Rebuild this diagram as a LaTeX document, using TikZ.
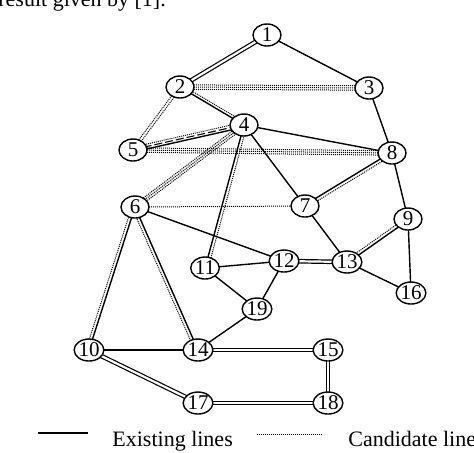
\documentclass[tikz,border=0pt]{standalone}
\usepackage{fontspec}
\setmainfont{Liberation Serif}
\usetikzlibrary{shapes.geometric,calc,backgrounds}

% one line between two buses, shifted sideways by #4
\newcommand\branch[4]{%
    \draw[#1] ($(#2)!#4!90:(#3)$) -- ($(#3)!#4!-90:(#2)$);%
}

\begin{document}
\begin{tikzpicture}[
    x=0.5pt, y=-0.5pt,
    font=\fontsize{10.5}{12}\selectfont,
    bus/.style={
        ellipse,
        draw,
        line width=0.7pt,
        fill=white,
        inner sep=0pt,
        minimum width=14pt,
        minimum height=11pt
    },
    existing/.style={
        line width=0.7pt
    },
    candidate/.style={
        line width=0.5pt,
        dash pattern=on 0.5pt off 0.5pt
    },
    twin/.style={
        line width=0.6pt,
        double,
        double distance=1.1pt
    },
    dashline/.style={
        line width=0.55pt,
        dash pattern=on 4pt off 1.5pt
    },
    legend/.style={
        font=\fontsize{11}{13}\selectfont,
        anchor=base west,
        inner sep=0pt
    }
]
\useasboundingbox (0,0) rectangle (474,452);

% Text cut by the page above
\node[legend] (caption) at (-2,6) {result given by [1].};

% Buses
\node[bus] (b1)  at (267,35)  {1};
\node[bus] (b2)  at (180,87)  {2};
\node[bus] (b3)  at (369,88)  {3};
\node[bus] (b4)  at (244,125) {4};
\node[bus] (b5)  at (133,150) {5};
\node[bus] (b6)  at (135,207) {6};
\node[bus] (b7)  at (305,206) {7};
\node[bus] (b8)  at (392,153) {8};
\node[bus] (b9)  at (408,219) {9};
\node[bus] (b10) at (89,350)  {10};
\node[bus] (b11) at (205,268) {11};
\node[bus] (b12) at (284,261) {12};
\node[bus] (b13) at (347,262) {13};
\node[bus] (b14) at (198,350) {14};
\node[bus] (b15) at (328,350) {15};
\node[bus] (b16) at (411,293) {16};
\node[bus] (b17) at (198,403) {17};
\node[bus] (b18) at (328,403) {18};
\node[bus] (b19) at (257,309) {19};

\begin{scope}[on background layer]
% Existing lines
\branch{existing}{b1}{b3}{0pt}
\branch{existing}{b2}{b4}{0pt}
\branch{existing}{b4}{b8}{0pt}
\branch{existing}{b4}{b7}{0pt}
\branch{existing}{b4}{b11}{0pt}
\branch{existing}{b5}{b4}{-1pt}
\branch{existing}{b3}{b8}{0pt}
\branch{existing}{b8}{b9}{0pt}
\branch{existing}{b7}{b8}{0.5pt}
\branch{existing}{b7}{b13}{0pt}
\branch{existing}{b13}{b9}{-0.5pt}
\branch{existing}{b9}{b16}{0pt}
\branch{existing}{b13}{b16}{0pt}
\branch{existing}{b6}{b12}{0pt}
\branch{existing}{b6}{b10}{0pt}
\branch{existing}{b6}{b14}{0pt}
\branch{existing}{b11}{b12}{0pt}
\branch{existing}{b11}{b19}{0pt}
\branch{existing}{b12}{b19}{0pt}
\branch{existing}{b19}{b14}{0pt}
\branch{existing}{b10}{b14}{0pt}

% Doubled lines
\branch{twin}{b1}{b2}{0pt}
\branch{twin}{b12}{b13}{0pt}
\branch{twin}{b14}{b15}{0pt}
\branch{twin}{b15}{b18}{0pt}
\branch{twin}{b17}{b18}{0pt}
\branch{twin}{b10}{b17}{0pt}

% Candidate lines
\foreach \off in {-1.1pt,0pt,1.1pt}{
    \branch{candidate}{b2}{b3}{\off}
    \branch{candidate}{b5}{b8}{\off}
    \branch{candidate}{b6}{b4}{\off}
}
\branch{candidate}{b2}{b5}{0.7pt}
\branch{candidate}{b2}{b5}{-0.7pt}
\branch{candidate}{b2}{b4}{1.3pt}
\branch{candidate}{b5}{b4}{1.4pt}
\branch{dashline}{b5}{b4}{0.2pt}
\branch{candidate}{b4}{b11}{1.5pt}
\branch{candidate}{b6}{b7}{0pt}
\branch{candidate}{b6}{b10}{-1.5pt}
\branch{candidate}{b6}{b14}{-1.5pt}
\branch{candidate}{b7}{b8}{-1pt}
\branch{candidate}{b13}{b9}{1pt}
\end{scope}

% Legend
\coordinate (exA) at (38,433);
\coordinate (exB) at (88,433);
\coordinate (caA) at (257,434);
\coordinate (caB) at (323,434);
\draw[existing] (exA) -- (exB);
\node[legend] (exText) at (112,446) {Existing lines};
\draw[candidate] (caA) -- (caB);
\node[legend] (caText) at (348,446) {Candidate lines};

\end{tikzpicture}
\end{document}
